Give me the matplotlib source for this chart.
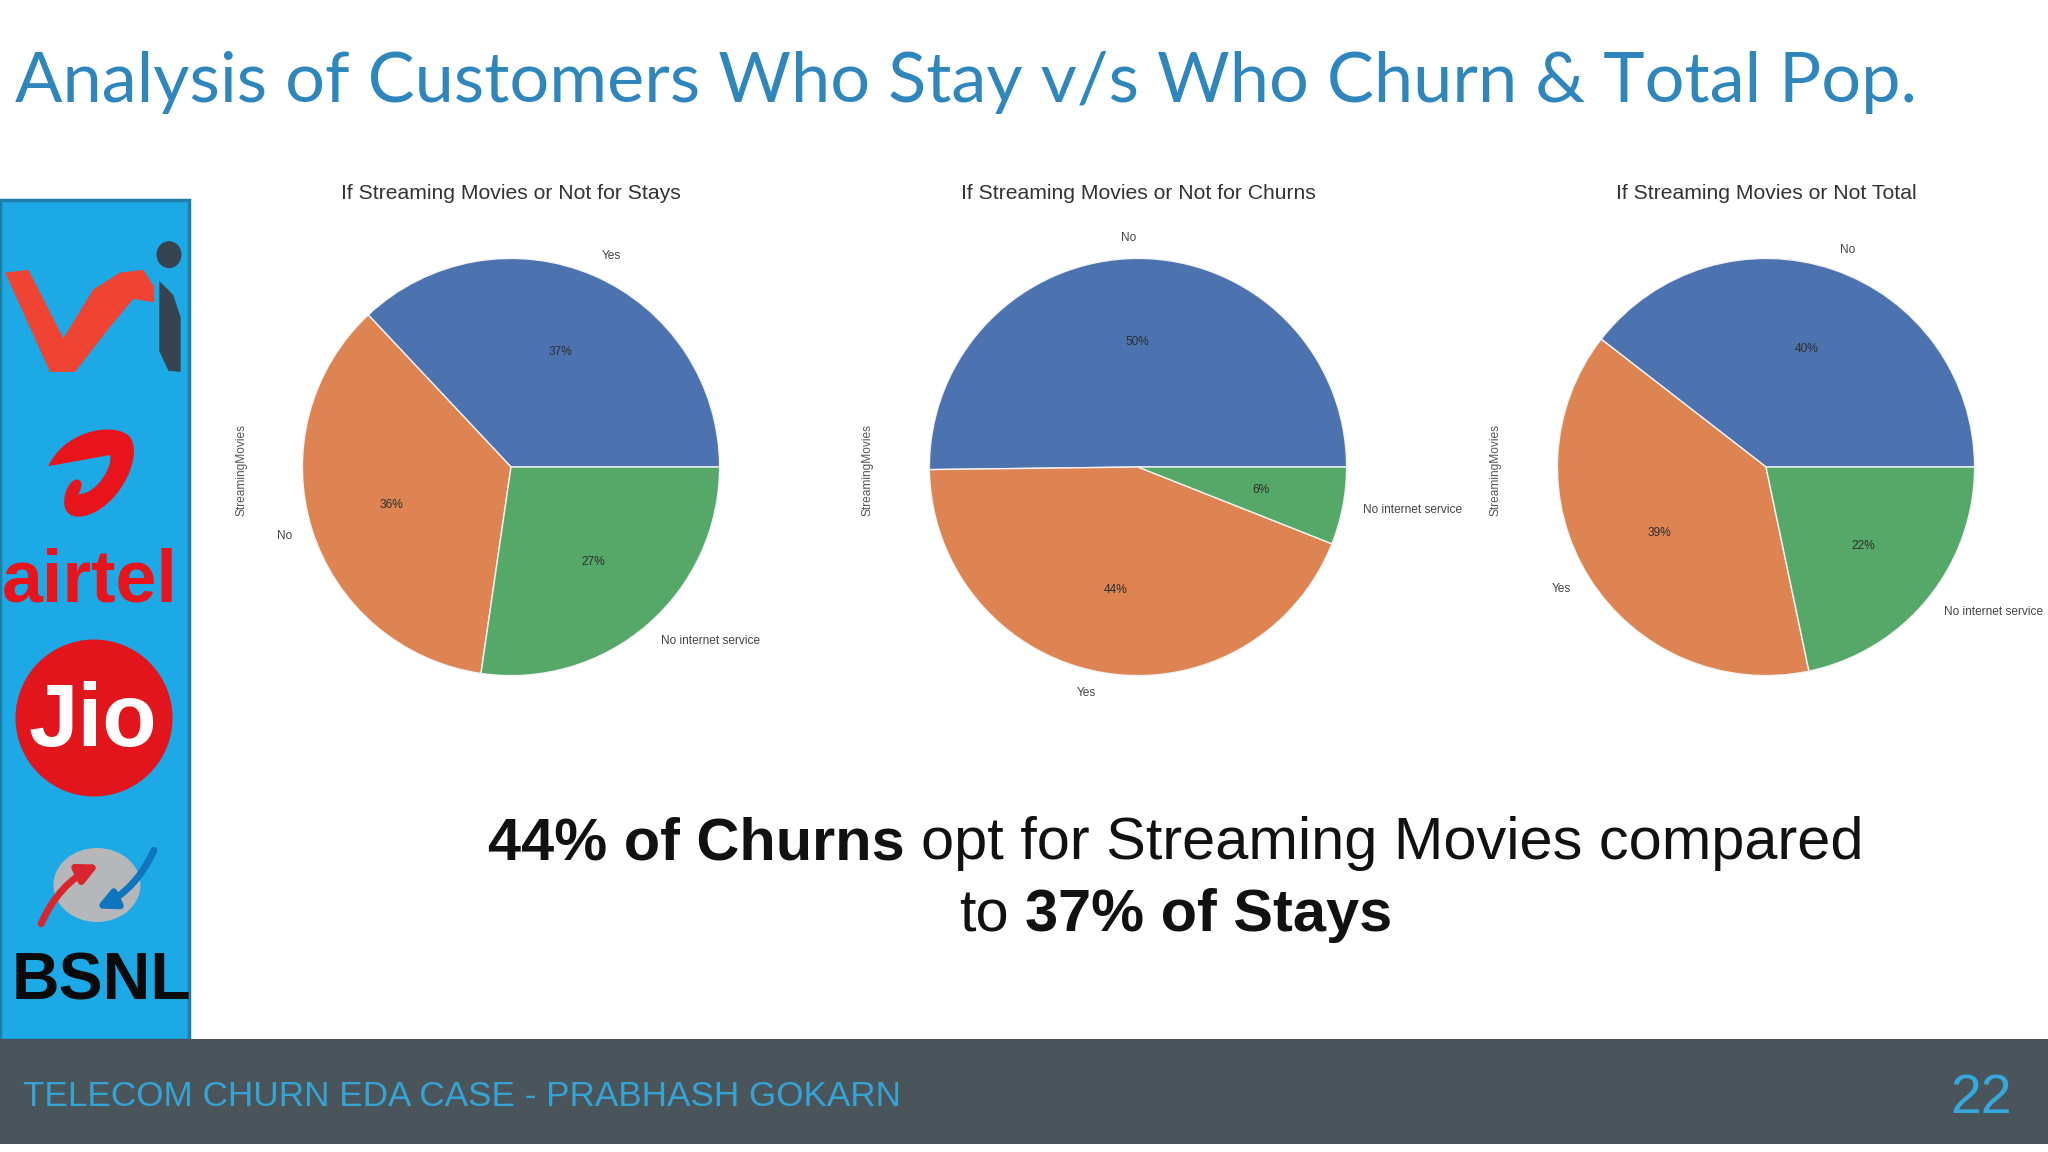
import matplotlib
matplotlib.use("Agg")
import matplotlib.pyplot as plt
from matplotlib.patches import Rectangle, Ellipse, Polygon, PathPatch
from matplotlib.path import Path

TITLE = "Analysis of Customers Who Stay v/s Who Churn & Total Pop."
FOOTER = "TELECOM CHURN EDA CASE - PRABHASH GOKARN"
PAGE = "22"
PIE_TITLES = ["If Streaming Movies or Not for Stays",
              "If Streaming Movies or Not for Churns",
              "If Streaming Movies or Not Total"]
stay_labels = ["Yes", "No", "No internet service"]
stay_values = [37.0, 35.7, 27.3]
churn_labels = ["No", "Yes", "No internet service"]
churn_values = [50.2, 43.8, 6.0]
total_labels = ["No", "Yes", "No internet service"]
total_values = [39.5, 38.8, 21.7]
PIE_COLORS = ["#4C72B0", "#DD8452", "#55A868"]

W, H = 2048, 1152
fig = plt.figure(figsize=(W / 100, H / 100), dpi=100, facecolor="white")
bg = fig.add_axes([0, 0, 1, 1], zorder=0)
bg.set_xlim(0, W)
bg.set_ylim(H, 0)
bg.axis("off")

# main title
bg.text(15, 102, TITLE, family="Lato", fontsize=50.6, color="#2F86BC", va="baseline")

# pies
centers = [511, 1138, 1766]
cy, radius = 467, 208.6
half = radius * 1.25
data = [(stay_labels, stay_values), (churn_labels, churn_values), (total_labels, total_values)]
for cx, (labs, vals), ttl in zip(centers, data, PIE_TITLES):
    ax = fig.add_axes([(cx - half) / W, 1 - (cy + half) / H, 2 * half / W, 2 * half / H], zorder=1)
    _, texts, autos = ax.pie(vals, labels=labs, colors=PIE_COLORS, autopct="%.0f%%",
                             wedgeprops=dict(edgecolor="#f4f4f4", linewidth=1.0),
                             textprops=dict(family="Liberation Sans", fontsize=8.6, color="#444444"))
    for a in autos:
        a.set_color("#2d2d2d")
    ax.set_title(ttl, family="Liberation Sans", fontsize=15.2, color="#333333", pad=5)
    ax.set_ylabel("StreamingMovies", family="Liberation Sans", fontsize=8.6, color="#555555")
    ax.yaxis.set_label_coords(0.5 - 264 / (2 * half), 0.495)
    ax.set_frame_on(False)
    ax.set_xticks([])
    ax.set_yticks([])

# sidebar
bg.add_patch(Rectangle((0, 200), 189, 840, facecolor="#1CA9E6", edgecolor="#1B7FA6", linewidth=2.5))

def zx(x): return x / 3
def zy(y): return 180 + y / 1.782
def poly(points, color):
    bg.add_patch(Polygon([(zx(a), zy(b)) for a, b in points], closed=True, facecolor=color, edgecolor="none"))

# Vi logo
poly([(15, 165), (85, 160), (190, 282), (280, 195), (360, 165), (430, 160), (462, 190), (462, 218),
      (400, 212), (330, 262), (225, 342), (150, 342)], "#EF4433")
poly([(478, 180), (520, 205), (542, 245), (542, 342), (505, 340), (478, 305)], "#37434F")
bg.add_patch(Ellipse((zx(507), zy(133)), 25, 27, facecolor="#37434F", edgecolor="none"))

# airtel logo
codes = [Path.MOVETO, Path.CURVE4, Path.CURVE4, Path.CURVE4, Path.CURVE4, Path.CURVE4, Path.CURVE4,
         Path.CURVE4, Path.CURVE4, Path.CURVE4, Path.CURVE4, Path.CURVE4, Path.CURVE4,
         Path.CURVE4, Path.CURVE4, Path.CURVE4, Path.CLOSEPOLY]
verts = [(145, 510), (190, 450), (330, 430), (385, 455), (430, 480), (380, 560), (290, 590),
         (230, 610), (180, 600), (195, 560), (215, 520), (265, 530), (235, 560),
         (290, 560), (340, 510), (330, 490), (145, 510)]
bg.add_patch(PathPatch(Path([(zx(a), zy(b)) for a, b in verts], codes), facecolor="#E8141C", edgecolor="none"))
bg.text(90, 601, "airtel", family="Liberation Sans", fontweight="bold", fontsize=53, color="#E8141C",
        ha="center", va="baseline")

# Jio logo
bg.add_patch(Ellipse((94, 718), 157, 157, facecolor="#E2141C", edgecolor="none"))
bg.text(93, 746, "Jio", family="Liberation Sans", fontweight="bold", fontsize=64, color="white",
        ha="center", va="baseline")

# BSNL logo
bg.add_patch(Ellipse((97, 885), 87, 74, facecolor="#B5B7BA", edgecolor="none"))
bg.annotate("", xy=(zx(305), zy(1218)), xytext=(zx(120), zy(1330)),
            arrowprops=dict(arrowstyle="-|>", color="#D9262E", lw=5, mutation_scale=28,
                            connectionstyle="arc3,rad=-0.2"))
bg.annotate("", xy=(zx(280), zy(1300)), xytext=(zx(465), zy(1190)),
            arrowprops=dict(arrowstyle="-|>", color="#0F75BC", lw=5, mutation_scale=28,
                            connectionstyle="arc3,rad=-0.2"))
bg.text(101, 1000, "BSNL", family="Liberation Sans", fontweight="bold", fontsize=47.5, color="#0A0A0A",
        ha="center", va="baseline")

# statement with mixed weights
def runs(parts, cx, baseline, size):
    rend = fig.canvas.get_renderer()
    items = [bg.text(0, baseline, s, family="Liberation Sans", fontweight=w, fontsize=size,
                     color="#111111", va="baseline") for s, w in parts]
    widths = [t.get_window_extent(rend).width for t in items]
    gap = size * 0.38
    total = sum(widths) + gap * (len(items) - 1)
    x = cx - total / 2
    for t, w in zip(items, widths):
        t.set_x(x)
        x += w + gap

runs([("44% of Churns", "bold"), ("opt for Streaming Movies compared", "normal")], 1176, 859, 42.8)
runs([("to", "normal"), ("37% of Stays", "bold")], 1176, 931, 42.8)

# footer
bg.add_patch(Rectangle((0, 1039), W, 105, facecolor="#4A555B", edgecolor="none"))
bg.text(23, 1106, FOOTER, family="Liberation Sans", fontsize=25.3, color="#35A3D4", va="baseline")
bg.text(2012, 1113, PAGE, family="Liberation Sans", fontsize=40, color="#35A9DE", ha="right", va="baseline")

fig.savefig("out.png", dpi=100, facecolor="white")
